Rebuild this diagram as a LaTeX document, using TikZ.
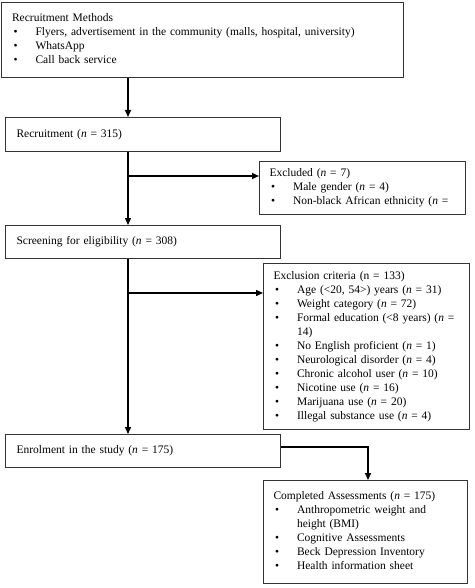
\documentclass[tikz,border=0pt]{standalone}
\usepackage{fontspec}
\setmainfont{Liberation Serif}
\usetikzlibrary{arrows.meta}
\newcommand\bitem[1]{\makebox[23.5pt][l]{\hspace{1.5pt}\textbullet}#1}
\newcommand\nn{\textit{n}}
\begin{document}
\begin{tikzpicture}[x=1pt,y=-1pt,
  box/.style={draw=black!80, line width=1.1pt, rectangle, inner ysep=0pt, anchor=north west, align=left,
    font=\fontsize{11.5}{14}\selectfont},
  arr/.style={line width=1.4pt, -{Triangle[length=7pt,width=6pt]}},
  ln/.style={line width=1.4pt}]
\useasboundingbox[fill=white] (0,0) rectangle (474,588);
\node[box, inner xsep=10.5pt, text width=380.5pt, minimum height=75pt] (methods) at (1,2)
  {\begin{tabular}{@{}l@{}}Recruitment Methods\\
  \bitem{Flyers, advertisement in the community (malls, hospital, university)}\\
  \bitem{WhatsApp}\\
  \bitem{Call back service}\end{tabular}};
\node[box, inner xsep=11pt, text width=253pt, minimum height=34pt] (recruit) at (5,117)
  {Recruitment (\nn{} = 315)};
\node[box, inner xsep=10pt, text width=186pt, minimum height=53pt] (excl) at (259,161)
  {\begin{tabular}{@{}l@{}}Excluded (\nn{} = 7)\\
  \bitem{Male gender (\nn{} = 4)}\\
  \bitem{Non-black African ethnicity (\nn{} =}\end{tabular}};
\node[box, inner xsep=11pt, text width=253pt, minimum height=33pt] (screen) at (5,225)
  {Screening for eligibility (\nn{} = 308)};
\node[box, inner xsep=10pt, text width=186pt, minimum height=166pt] (crit) at (263,263)
  {\begin{tabular}{@{}l@{}}Exclusion criteria (n = 133)\\
  \bitem{Age (<20, 54>) years (\nn{} = 31)}\\
  \bitem{Weight category (\nn{} = 72)}\\
  \bitem{Formal education (<8 years) (\nn{} =}\\
  \hspace{23.5pt}14)\\
  \bitem{No English proficient (\nn{} = 1)}\\
  \bitem{Neurological disorder (\nn{} = 4)}\\
  \bitem{Chronic alcohol user (\nn{} = 10)}\\
  \bitem{Nicotine use (\nn{} = 16)}\\
  \bitem{Marijuana use (\nn{} = 20)}\\
  \bitem{Illegal substance use (\nn{} = 4)}\end{tabular}};
\node[box, inner xsep=11pt, text width=253pt, minimum height=33pt] (enrol) at (5,434)
  {Enrolment in the study (\nn{} = 175)};
\node[box, inner xsep=10pt, text width=184pt, minimum height=103pt] (done) at (263,480)
  {\begin{tabular}{@{}l@{}}Completed Assessments (\nn{} = 175)\\
  \bitem{Anthropometric weight and}\\
  \hspace{23.5pt}height (BMI)\\
  \bitem{Cognitive Assessments}\\
  \bitem{Beck Depression Inventory}\\
  \bitem{Health information sheet}\end{tabular}};
\coordinate (tx) at (128,0);
\coordinate (b1) at (128,176);
\coordinate (b2) at (128,293);
\coordinate (c1) at (368,447);
\draw[arr] (methods.south -| tx) -- (recruit.north -| tx);
\draw[arr] (recruit.south -| tx) -- (screen.north -| tx);
\draw[arr] (b1) -- (b1 -| excl.west);
\draw[arr] (screen.south -| tx) -- (enrol.north -| tx);
\draw[arr] (b2) -- (b2 -| crit.west);
\draw[arr] (enrol.east |- c1) -- (c1) -- (done.north -| c1);
\end{tikzpicture}
\end{document}
